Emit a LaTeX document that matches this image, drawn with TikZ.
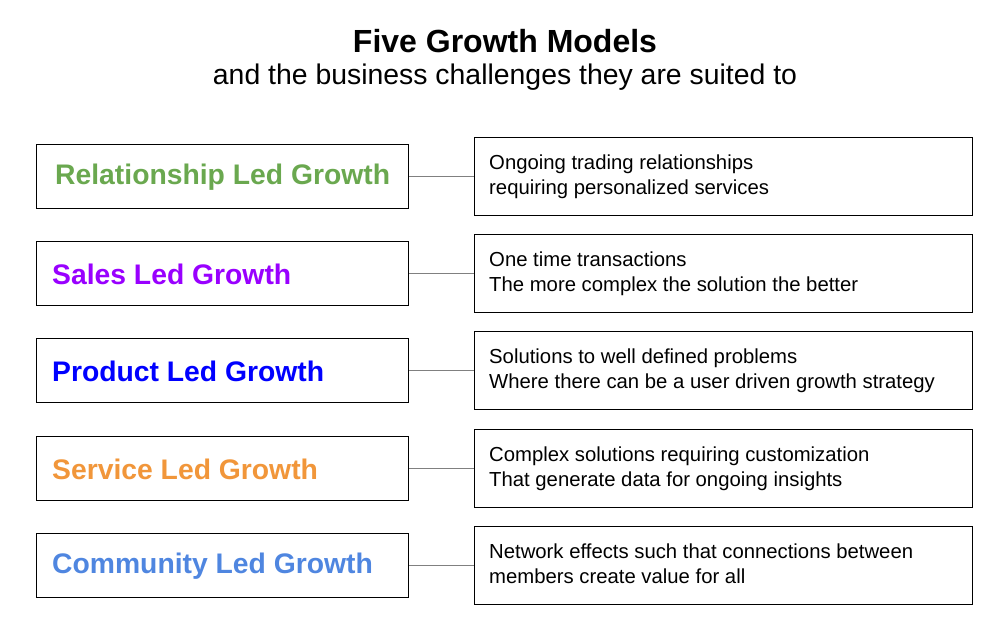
\documentclass[tikz,border=0pt]{standalone}
\usepackage{fontspec}
\setmainfont{Liberation Sans}
\definecolor{cg}{HTML}{6AA84F}
\definecolor{cp}{HTML}{9900FF}
\definecolor{cb}{HTML}{0000FF}
\definecolor{co}{HTML}{F1963A}
\definecolor{cc}{HTML}{4F86E0}
\begin{document}
\begin{tikzpicture}[x=1pt,y=-1pt,
  lbox/.style={draw=black,line width=1pt,minimum width=372pt,minimum height=64pt,anchor=north west,inner sep=0pt},
  rbox/.style={draw=black,line width=1pt,minimum width=498pt,minimum height=78pt,anchor=north west,inner sep=0pt},
  ltxt/.style={anchor=west,font=\fontsize{28.3}{32}\selectfont\bfseries,inner sep=0pt},
  rtxt/.style={anchor=north west,align=left,font=\fontsize{20.3}{24.5}\selectfont,inner sep=0pt},
  conn/.style={draw=gray,line width=1pt}]
\useasboundingbox (0,0) rectangle (1000,633);
\node[font=\fontsize{32}{36}\selectfont\bfseries] (t) at (505,41) {Five Growth Models};
\node[font=\fontsize{28.4}{32}\selectfont] (s) at (505,77) {and the business challenges they are suited to};
\foreach \i/\ly/\ry/\c/\lab/\ra/\rb/\lx in {
 1/144/137/cg/Relationship Led Growth/Ongoing trading relationships/requiring personalized services/55,
 2/241/234/cp/Sales Led Growth/One time transactions/The more complex the solution the better/52,
 3/338/331/cb/Product Led Growth/Solutions to well defined problems/Where there can be a user driven growth strategy/52,
 4/436/429/co/Service Led Growth/Complex solutions requiring customization/That generate data for ongoing insights/52,
 5/533/526/cc/Community Led Growth/Network effects such that connections between/members create value for all/52}{
 \node[lbox] (l\i) at (36,\ly) {};
 \node[rbox] (r\i) at (474,\ry) {};
 \node[ltxt,text=\c] (lt\i) at (\lx,\ly+33) {\lab};
 \node[rtxt] (rt\i) at (489,\ry+18) {\ra\\\rb};
 \draw[conn] (l\i.east) -- (l\i.east -| r\i.west);
}
\end{tikzpicture}
\end{document}
